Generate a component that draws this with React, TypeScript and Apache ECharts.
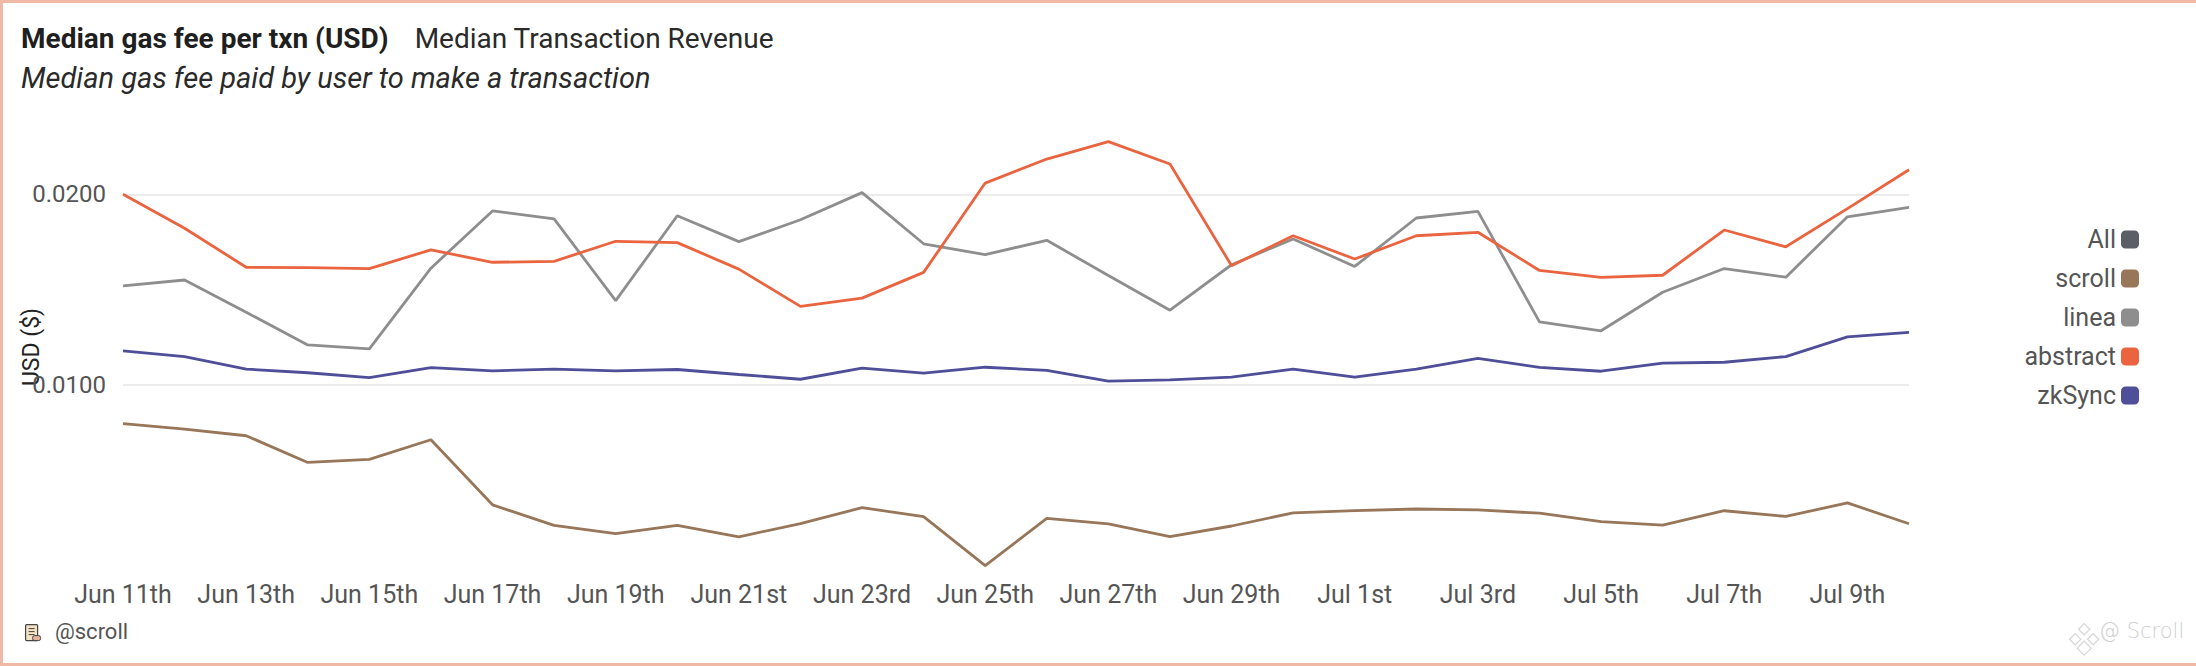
import React, { useEffect, useRef } from "react";
import * as echarts from "echarts";

const dates: string[] = [
  "Jun 11th", "Jun 12th", "Jun 13th", "Jun 14th", "Jun 15th", "Jun 16th", "Jun 17th", "Jun 18th",
  "Jun 19th", "Jun 20th", "Jun 21st", "Jun 22nd", "Jun 23rd", "Jun 24th", "Jun 25th", "Jun 26th",
  "Jun 27th", "Jun 28th", "Jun 29th", "Jun 30th", "Jul 1st", "Jul 2nd", "Jul 3rd", "Jul 4th",
  "Jul 5th", "Jul 6th", "Jul 7th", "Jul 8th", "Jul 9th", "Jul 10th",
];

const allValues: number[] = [];

const scrollValues: number[] = [
  0.00798, 0.0077, 0.00735, 0.00595, 0.00611, 0.00714, 0.00373, 0.00265, 0.00222, 0.00265,
  0.00205, 0.00275, 0.00358, 0.00311, 0.00054, 0.00302, 0.00273, 0.00206, 0.00262, 0.00331,
  0.00343, 0.00351, 0.00346, 0.00329, 0.00285, 0.00267, 0.00342, 0.00312, 0.00383, 0.00274,
];

const lineaValues: number[] = [
  0.0152, 0.01551, 0.01382, 0.01211, 0.0119, 0.01613, 0.01913, 0.01871, 0.01443, 0.01888,
  0.01752, 0.01867, 0.02009, 0.01741, 0.01684, 0.01759, 0.01575, 0.01393, 0.01631, 0.01766,
  0.01622, 0.01876, 0.01911, 0.01332, 0.01285, 0.01487, 0.01611, 0.01566, 0.01882, 0.01932,
];

const abstractValues: number[] = [
  0.02, 0.01822, 0.01618, 0.01616, 0.01611, 0.01709, 0.01644, 0.01649, 0.01754, 0.01747,
  0.01608, 0.01413, 0.01456, 0.01591, 0.02059, 0.02185, 0.02276, 0.02159, 0.01626, 0.01783,
  0.01661, 0.01783, 0.01801, 0.01601, 0.01565, 0.01576, 0.01813, 0.01725, 0.01925, 0.02129,
];

const zkSyncValues: number[] = [
  0.0118, 0.0115, 0.01084, 0.01065, 0.0104, 0.01092, 0.01075, 0.01084, 0.01075, 0.01082,
  0.01056, 0.01031, 0.01089, 0.01063, 0.01094, 0.01077, 0.01021, 0.01028, 0.01042, 0.01084,
  0.01042, 0.01084, 0.0114, 0.01093, 0.01073, 0.01115, 0.0112, 0.0115, 0.01253, 0.01277,
];

const seriesNames: string[] = ["All", "scroll", "linea", "abstract", "zkSync"];
const seriesColors: string[] = ["#5b5e66", "#977659", "#8e8e8e", "#e9643f", "#4f4e98"];
const seriesData: number[][] = [allValues, scrollValues, lineaValues, abstractValues, zkSyncValues];

const FONT = "Roboto, 'Noto Sans', sans-serif";

export default function App() {
  const ref = useRef<HTMLDivElement>(null);

  useEffect(() => {
    document.body.style.margin = "0";
    if (!ref.current) return;
    const chart = echarts.init(ref.current, undefined, { renderer: "svg" });
    chart.setOption({
      animation: false,
      backgroundColor: "#ffffff",
      textStyle: { fontFamily: FONT },
      title: {
        left: 16,
        top: 19,
        itemGap: 11,
        text: "{a|Median gas fee per txn (USD)}{b|Median Transaction Revenue}",
        textStyle: {
          rich: {
            a: { fontSize: 28, fontWeight: "bold", color: "#1f1f1f", fontFamily: FONT },
            b: { fontSize: 28, fontWeight: "normal", color: "#2a2a2a", fontFamily: FONT, padding: [0, 0, 0, 26] },
          },
        },
        subtext: "Median gas fee paid by user to make a transaction",
        subtextStyle: { fontSize: 29, fontStyle: "italic", color: "#2a2a2a", fontFamily: FONT },
      },
      legend: {
        orient: "vertical",
        right: 52,
        top: 222,
        align: "right",
        icon: "roundRect",
        itemWidth: 18,
        itemHeight: 18,
        itemGap: 14,
        textStyle: { fontSize: 25, color: "#555", fontFamily: FONT },
        data: seriesNames,
      },
      grid: { left: 123, right: 287, top: 118, bottom: 90, containLabel: false },
      xAxis: {
        type: "category",
        data: dates,
        boundaryGap: false,
        axisLine: { show: false },
        axisTick: { show: false },
        axisLabel: { interval: 1, fontSize: 25, color: "#555", margin: 6, fontFamily: FONT },
        splitLine: { show: false },
      },
      yAxis: {
        type: "value",
        min: 0,
        max: 0.024,
        interval: 0.01,
        name: "USD ($)",
        nameLocation: "middle",
        nameGap: 80,
        nameMoveOverlap: false,
        nameTextStyle: { fontSize: 23, color: "#222", fontFamily: FONT },
        axisLine: { show: false },
        axisTick: { show: false },
        axisLabel: {
          fontSize: 24,
          color: "#555",
          margin: 17,
          fontFamily: FONT,
          showMinLabel: false,
          showMaxLabel: false,
          formatter: (v: number) => v.toFixed(4),
        },
        splitLine: { show: true, lineStyle: { color: ["transparent", "#e6e6e6", "#e6e6e6"], width: 1.5 } },
      },
      series: seriesNames.map((name, i) => ({
        name,
        type: "line",
        data: seriesData[i],
        showSymbol: false,
        symbol: "none",
        color: seriesColors[i],
        lineStyle: { width: 2.8, color: seriesColors[i] },
      })),
      graphic: [
        {
          type: "group",
          left: 25,
          top: 624,
          children: [
            { type: "rect", shape: { x: 0, y: 0, width: 12, height: 16, r: 1 }, style: { fill: "#f3e3c3", stroke: "#444", lineWidth: 1.2 } },
            { type: "line", shape: { x1: 3, y1: 4, x2: 9, y2: 4 }, style: { stroke: "#444", lineWidth: 1 } },
            { type: "line", shape: { x1: 3, y1: 7, x2: 9, y2: 7 }, style: { stroke: "#444", lineWidth: 1 } },
            { type: "line", shape: { x1: 3, y1: 10, x2: 9, y2: 10 }, style: { stroke: "#444", lineWidth: 1 } },
            { type: "rect", shape: { x: 7, y: 11, width: 8, height: 5, r: 2 }, style: { fill: "#e7b3a0", stroke: "#444", lineWidth: 1 } },
          ],
        },
        {
          type: "text",
          left: 55,
          top: 620,
          style: { text: "@scroll", fontSize: 22, fill: "#555", fontFamily: FONT },
        },
        {
          type: "group",
          left: 2066,
          top: 620,
          children: [
            { type: "rect", x: 14, y: 2, rotation: Math.PI / 4, shape: { x: -4, y: -4, width: 8, height: 8 }, style: { fill: "none", stroke: "#d6d6d6", lineWidth: 1.2 } },
            { type: "rect", x: 5, y: 12, rotation: Math.PI / 4, shape: { x: -4, y: -4, width: 8, height: 8 }, style: { fill: "none", stroke: "#d6d6d6", lineWidth: 1.2 } },
            { type: "rect", x: 23, y: 12, rotation: Math.PI / 4, shape: { x: -4, y: -4, width: 8, height: 8 }, style: { fill: "none", stroke: "#d6d6d6", lineWidth: 1.2 } },
            { type: "rect", x: 14, y: 21, rotation: Math.PI / 4, shape: { x: -5, y: -5, width: 10, height: 10 }, style: { fill: "none", stroke: "#d6d6d6", lineWidth: 1.2 } },
          ],
        },
        {
          type: "text",
          left: 2099,
          top: 620,
          style: { text: "@ Scroll", fontSize: 21, fill: "#cfcfcf", fontFamily: "'DejaVu Sans', sans-serif", fontWeight: 200 },
        },
      ],
    });
    return () => chart.dispose();
  }, []);

  return (
    <div style={{ position: "relative", width: 2196, height: 666, background: "#fff" }}>
      <div ref={ref} style={{ position: "absolute", left: 0, top: 0, width: 2196, height: 666 }} />
      <div
        style={{
          position: "absolute",
          left: 0,
          top: 0,
          width: 2196,
          height: 666,
          boxSizing: "border-box",
          borderLeft: "3px solid #f0b9a6",
          borderTop: "3px solid #f0b9a6",
          borderBottom: "3px solid #f0b9a6",
          pointerEvents: "none",
        }}
      />
    </div>
  );
}
